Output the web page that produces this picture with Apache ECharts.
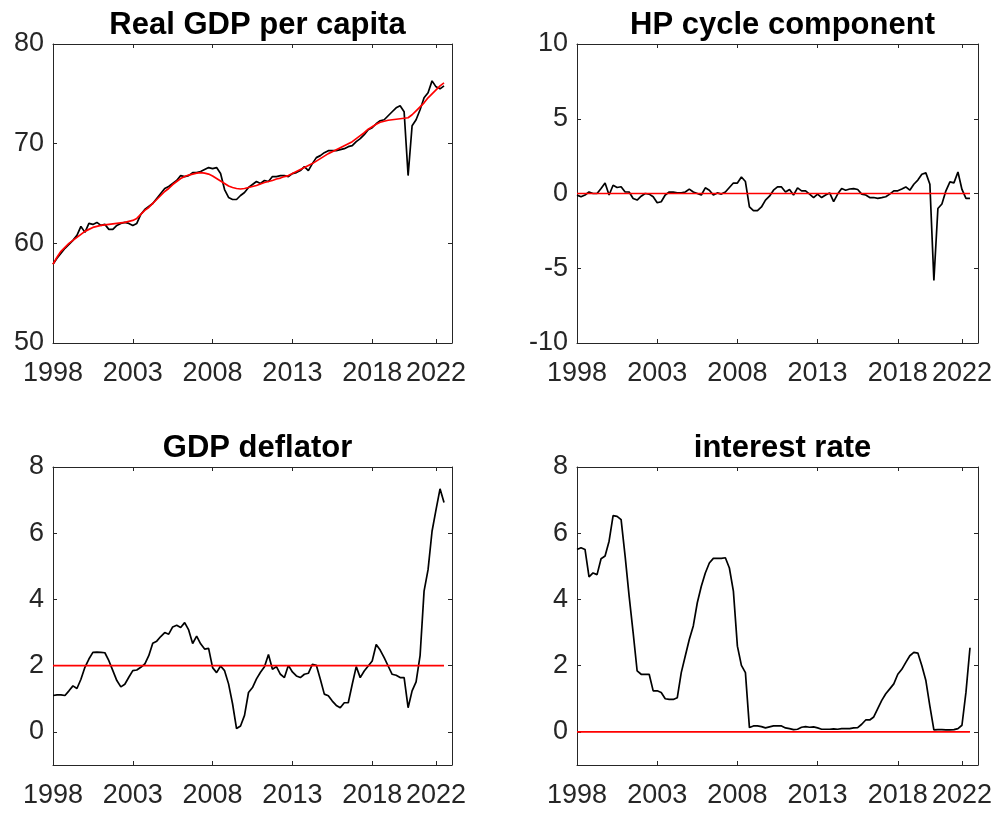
<!DOCTYPE html>
<html>
<head>
<meta charset="utf-8">
<title>Real GDP, HP cycle, deflator, interest rate</title>
<script src="https://cdn.jsdelivr.net/npm/echarts@6/dist/echarts.min.js"></script>
<style>
  html, body { margin: 0; background: #fff; }
  #chart { width: 1000px; height: 821px; }
</style>
</head>
<body>
<div id="chart"></div>
<script>
var firstYear = 1998;
var perYear = 4;

var gdp = [
  57.9, 58.5, 59.0, 59.5, 59.9, 60.3, 60.8, 61.7, 61.1, 62.0,
  61.9, 62.1, 61.8, 61.9, 61.4, 61.4, 61.8, 62.0, 62.1, 62.0,
  61.8, 62.0, 62.9, 63.4, 63.7, 64.0, 64.5, 65.0, 65.5, 65.7,
  66.0, 66.3, 66.8, 66.7, 66.8, 67.1, 67.1, 67.2, 67.4, 67.6,
  67.5, 67.6, 67.0, 65.4, 64.6, 64.4, 64.4, 64.8, 65.1, 65.6,
  65.9, 66.2, 66.0, 66.3, 66.2, 66.7, 66.7, 66.8, 66.8, 66.7,
  67.0, 67.1, 67.3, 67.7, 67.3, 68.0, 68.6, 68.8, 69.1, 69.3,
  69.3, 69.3, 69.4, 69.5, 69.7, 69.8, 70.2, 70.5, 70.9, 71.4,
  71.6, 72.0, 72.3, 72.4, 72.8, 73.2, 73.6, 73.8, 73.2, 66.8,
  71.8, 72.4, 73.4, 74.6, 75.1, 76.3, 75.7, 75.5, 75.8
];
var gdpTrend = [
  57.9, 58.6, 59.2, 59.6, 60.0, 60.3, 60.6, 60.9, 61.2, 61.4,
  61.6, 61.7, 61.8, 61.85, 61.9, 61.95, 62.0, 62.05, 62.1, 62.2,
  62.3, 62.5, 62.9, 63.3, 63.6, 64.0, 64.4, 64.8, 65.2, 65.5,
  65.9, 66.2, 66.5, 66.7, 66.85, 66.95, 67.05, 67.1, 67.05, 66.95,
  66.75, 66.5, 66.25, 66.0, 65.75, 65.6, 65.5, 65.45, 65.5, 65.6,
  65.7, 65.8, 65.95, 66.1, 66.2, 66.3, 66.45, 66.55, 66.7, 66.8,
  67.0, 67.2, 67.4, 67.6, 67.8, 68.0, 68.25, 68.5, 68.75, 69.0,
  69.2, 69.4, 69.6, 69.8, 70.0, 70.2, 70.5, 70.8, 71.1, 71.45,
  71.7, 71.95, 72.15, 72.25, 72.35, 72.4, 72.45, 72.5, 72.55, 72.6,
  72.9, 73.3, 73.7, 74.1, 74.6, 75.0, 75.4, 75.8, 76.1
];
var hpCycle = [
  -0.11, -0.22, -0.1, 0.1, 0.0, 0.0, 0.33, 0.7, -0.1, 0.55,
  0.4, 0.45, 0.1, 0.1, -0.33, -0.44, -0.18, 0.0, -0.04, -0.22,
  -0.62, -0.55, -0.1, 0.1, 0.09, 0.04, 0.04, 0.1, 0.29, 0.1,
  0.0, -0.1, 0.38, 0.22, -0.1, 0.04, -0.04, 0.1, 0.4, 0.7,
  0.7, 1.1, 0.8, -0.9, -1.15, -1.15, -0.9, -0.44, -0.18, 0.22,
  0.44, 0.44, 0.1, 0.27, -0.1, 0.38, 0.18, 0.18, -0.04, -0.27,
  -0.04, -0.27, -0.1, 0.04, -0.55, -0.04, 0.33, 0.22, 0.3, 0.33,
  0.27, -0.04, -0.1, -0.27, -0.27, -0.33, -0.28, -0.22, -0.04, 0.18,
  0.18, 0.3, 0.44, 0.22, 0.62, 0.9, 1.29, 1.38, 0.62, -5.82,
  -1.0, -0.7, 0.18, 0.78, 0.71, 1.44, 0.27, -0.33, -0.33
];
var deflator = [
  1.1, 1.12, 1.12, 1.1, 1.24, 1.39, 1.31, 1.59, 1.95, 2.2,
  2.4, 2.41, 2.4, 2.39, 2.15, 1.85, 1.55, 1.36, 1.44, 1.65,
  1.85, 1.87, 1.95, 2.05, 2.3, 2.68, 2.74, 2.88, 3.0, 2.95,
  3.17, 3.22, 3.15, 3.3, 3.08, 2.67, 2.89, 2.66, 2.5, 2.52,
  1.94, 1.79, 1.99, 1.85, 1.45, 0.85, 0.1, 0.18, 0.5, 1.19,
  1.34, 1.6, 1.8, 1.97, 2.34, 1.89, 1.97, 1.74, 1.64, 2.01,
  1.81, 1.69, 1.64, 1.74, 1.77, 2.04, 2.01, 1.59, 1.14, 1.09,
  0.93, 0.8, 0.73, 0.88, 0.88, 1.44, 1.97, 1.64, 1.84, 1.99,
  2.14, 2.64, 2.47, 2.24, 1.99, 1.74, 1.71, 1.64, 1.64, 0.73,
  1.24, 1.51, 2.3, 4.25, 4.9, 6.06, 6.71, 7.34, 6.93
];
var interest = [
  5.51, 5.56, 5.51, 4.68, 4.8, 4.75, 5.23, 5.31, 5.76, 6.53,
  6.51, 6.41, 5.31, 4.1, 3.0, 1.84, 1.74, 1.74, 1.74, 1.24,
  1.24, 1.19, 1.0, 0.98, 0.98, 1.03, 1.79, 2.29, 2.79, 3.2,
  3.9, 4.4, 4.8, 5.1, 5.24, 5.24, 5.24, 5.26, 4.95, 4.25,
  2.59, 2.01, 1.79, 0.13, 0.18, 0.18, 0.16, 0.12, 0.15, 0.18,
  0.18, 0.18, 0.12, 0.1, 0.07, 0.08, 0.14, 0.16, 0.14, 0.15,
  0.12, 0.08, 0.08, 0.08, 0.09, 0.08, 0.1, 0.1, 0.1, 0.12,
  0.13, 0.23, 0.36, 0.36, 0.45, 0.7, 0.95, 1.15, 1.3, 1.45,
  1.74, 1.89, 2.1, 2.3, 2.4, 2.38, 2.0, 1.55, 0.78, 0.06,
  0.07, 0.07, 0.06, 0.06, 0.07, 0.1, 0.2, 1.2, 2.54
];

// red reference lines
var cycleZero = 0;
var inflationTarget = 2;
var rateZero = 0;

var xTicks = [1998, 2003, 2008, 2013, 2018, 2022];
var xRange = [1998, 2023];
var titles = ['Real GDP per capita', 'HP cycle component', 'GDP deflator', 'interest rate'];
var yRanges = [[50, 80], [-10, 10], [-1, 8], [-1, 8]];
var yTicks = [[50, 60, 70, 80], [-10, -5, 0, 5, 10], [0, 2, 4, 6, 8], [0, 2, 4, 6, 8]];

var years = gdp.map(function (v, i) { return firstYear + i / perYear; });
function pairs(arr) { return arr.map(function (v, i) { return [years[i], v]; }); }
function flat(level) { return years.map(function (y) { return [y, level]; }); }

var panelSeries = [
  [pairs(gdp), pairs(gdpTrend)],
  [pairs(hpCycle), flat(cycleZero)],
  [pairs(deflator), flat(inflationTarget)],
  [pairs(interest), flat(rateZero)]
];

var boxes = [
  { left: 53, top: 44, width: 399, height: 299 },
  { left: 577, top: 44, width: 401, height: 299 },
  { left: 53, top: 467, width: 399, height: 298 },
  { left: 577, top: 467, width: 401, height: 298 }
];

var axisColor = '#262626';
var font = '"Liberation Sans", Arial, Helvetica, sans-serif';

var grid = [], xAxis = [], yAxis = [], series = [], title = [];
boxes.forEach(function (b, i) {
  grid.push({ left: b.left, top: b.top, width: b.width, height: b.height, containLabel: false });
  title.push({
    text: titles[i],
    left: b.left + b.width / 2,
    top: b.top - 39,
    textAlign: 'center',
    textStyle: { fontFamily: font, fontSize: 31, fontWeight: 'bold', color: '#000' }
  });
  ['bottom', 'top'].forEach(function (pos) {
    xAxis.push({
      type: 'value', gridIndex: i, position: pos,
      min: xRange[0], max: xRange[1],
      axisLine: { show: true, onZero: false, lineStyle: { color: axisColor, width: 1 } },
      axisTick: { show: true, inside: true, length: 4, customValues: xTicks, lineStyle: { color: axisColor } },
      axisLabel: {
        show: pos === 'bottom', customValues: xTicks, margin: 17,
        color: axisColor, fontFamily: font, fontSize: 27,
        formatter: function (v) { return String(v); }
      },
      splitLine: { show: false }
    });
  });
  ['left', 'right'].forEach(function (pos) {
    yAxis.push({
      type: 'value', gridIndex: i, position: pos,
      min: yRanges[i][0], max: yRanges[i][1],
      axisLine: { show: true, onZero: false, lineStyle: { color: axisColor, width: 1 } },
      axisTick: { show: true, inside: true, length: 4, customValues: yTicks[i], lineStyle: { color: axisColor } },
      axisLabel: {
        show: pos === 'left', customValues: yTicks[i], margin: 9,
        color: axisColor, fontFamily: font, fontSize: 27
      },
      splitLine: { show: false }
    });
  });
  var s = panelSeries[i];
  series.push({
    type: 'line', xAxisIndex: 2 * i, yAxisIndex: 2 * i,
    data: s[0], showSymbol: false, symbol: 'none',
    lineStyle: { color: '#000', width: 1.7 }, z: 2
  });
  series.push({
    type: 'line', xAxisIndex: 2 * i, yAxisIndex: 2 * i,
    data: s[1], showSymbol: false, symbol: 'none',
    lineStyle: { color: '#ff0000', width: 1.7 }, z: 3
  });
});

var chart = echarts.init(document.getElementById('chart'));
chart.setOption({
  animation: false,
  backgroundColor: '#fff',
  title: title,
  grid: grid,
  xAxis: xAxis,
  yAxis: yAxis,
  series: series
});
</script>
</body>
</html>
